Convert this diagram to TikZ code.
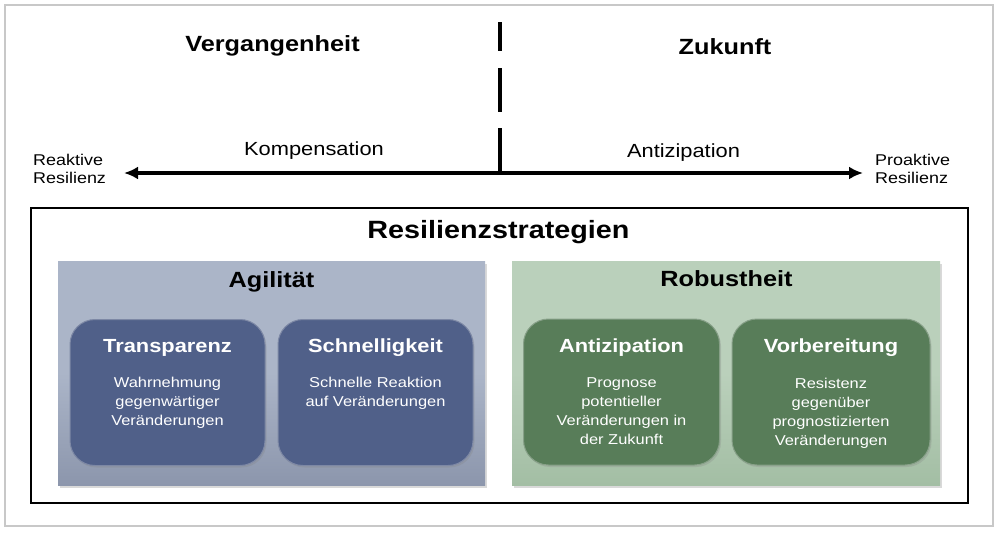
\documentclass[tikz,border=0pt]{standalone}
\usepackage{fontspec}
\setmainfont[FakeStretch=1.15]{Liberation Sans}
\usetikzlibrary{arrows.meta,shadows,calc}
\definecolor{agtop}{RGB}{171,181,200}
\definecolor{agbot}{RGB}{140,150,172}
\definecolor{agbox}{RGB}{80,96,137}
\definecolor{agline}{RGB}{125,136,165}
\definecolor{rotop}{RGB}{186,208,187}
\definecolor{robot}{RGB}{163,190,164}
\definecolor{robox}{RGB}{88,125,89}
\definecolor{roline}{RGB}{135,160,136}
\definecolor{frame}{RGB}{200,200,200}
\tikzset{
  head/.style={font=\fontsize{22}{26}\selectfont\bfseries, anchor=base, inner sep=0},
  side/.style={font=\fontsize{19}{22}\selectfont, anchor=base, inner sep=0},
  endlabel/.style={font=\fontsize{15.6}{18}\selectfont, align=left, anchor=north west, inner sep=0},
  panel/.style={rectangle, inner sep=0, drop shadow={shadow xshift=2pt, shadow yshift=-3pt, opacity=0.3}},
  inbox/.style={rectangle, rounded corners=25pt, inner sep=0, line width=1pt,
     minimum height=146pt, drop shadow={shadow xshift=1.5pt, shadow yshift=-2pt, opacity=0.25}},
  boxtitle/.style={font=\fontsize{19}{22}\selectfont\bfseries, text=white, anchor=base, inner sep=0},
  boxbody/.style={font=\fontsize{14.3}{19}\selectfont, text=white, align=center, anchor=north, inner sep=0},
  axisline/.style={line width=3.6pt, {Latex[length=14pt,width=13pt]}-{Latex[length=14pt,width=13pt]}},
}
\begin{document}
\begin{tikzpicture}[x=1pt,y=-1pt]
\useasboundingbox (0,0) rectangle (1000,533);
\draw[frame, line width=1.5pt] (5,5) rectangle (993,526);

% time axis
\coordinate (dtop) at (500,22);
\coordinate (axmid) at (500,173);
\coordinate (L) at (124,173);
\coordinate (R) at (863,173);
\draw[line width=4.2pt, dash pattern=on 29pt off 17pt on 44pt off 16pt on 45pt off 0pt] (dtop) -- (axmid);
\draw[axisline] (L) -- (R);

\node[head] (verg) at (272.5,51) {Vergangenheit};
\node[head] (zuk) at (725,54) {Zukunft};
\node[side] (komp) at (314,155) {Kompensation};
\node[side] (anti) at (683.5,157) {Antizipation};
\node[endlabel] (reak) at (33,154) {Reaktive\\Resilienz};
\node[endlabel] (proa) at (875,154) {Proaktive\\Resilienz};

% main box
\node[draw, line width=1.5pt, minimum width=937pt, minimum height=295pt, inner sep=0] (main) at (499.5,355.5) {};
\node[font=\fontsize{25}{30}\selectfont\bfseries, anchor=base, inner sep=0] (rs) at (498.5,238) {Resilienzstrategien};

% panels
\node[panel, top color=agtop, bottom color=agbot, middle color=agtop, minimum width=427pt, minimum height=224pt] (ag) at (271.5,373) {};
\node[panel, top color=rotop, bottom color=robot, middle color=rotop, minimum width=428pt, minimum height=224pt] (ro) at (726,373) {};
\node[head] (agt) at (271.5,287) {Agilität};
\node[head] (rot) at (726.5,286) {Robustheit};

% inner boxes
\node[inbox, fill=agbox, draw=agline, minimum width=195pt] (tr) at (167.5,392.5) {};
\node[inbox, fill=agbox, draw=agline, minimum width=195pt] (sc) at (375.5,392.5) {};
\node[inbox, fill=robox, draw=roline, minimum width=196pt] (an) at (621.5,392) {};
\node[inbox, fill=robox, draw=roline, minimum width=198pt] (vo) at (831,392) {};

\node[boxtitle] (trt) at ($(tr.north)+(0,33)$) {Transparenz};
\node[boxtitle] (sct) at ($(sc.north)+(0,33)$) {Schnelligkeit};
\node[boxtitle] (ant) at ($(an.north)+(0,34)$) {Antizipation};
\node[boxtitle] (vot) at ($(vo.north)+(0,34)$) {Vorbereitung};

\node[boxbody] (trb) at ($(tr.north)+(0,58)$) {Wahrnehmung\\gegenwärtiger\\Veränderungen};
\node[boxbody] (scb) at ($(sc.north)+(0,58)$) {Schnelle Reaktion\\auf Veränderungen};
\node[boxbody] (anb) at ($(an.north)+(0,59)$) {Prognose\\potentieller\\Veränderungen in\\der Zukunft};
\node[boxbody] (vob) at ($(vo.north)+(0,59)$) {Resistenz\\gegenüber\\prognostizierten\\Veränderungen};
\end{tikzpicture}
\end{document}
